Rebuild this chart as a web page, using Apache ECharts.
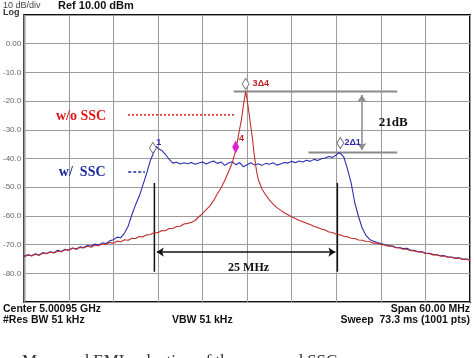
<!DOCTYPE html>
<html>
<head>
<meta charset="utf-8">
<script src="https://cdn.jsdelivr.net/npm/echarts@6/dist/echarts.min.js"></script>
<style>
html,body{margin:0;padding:0;background:#fff;}
#chart{width:474px;height:358px;}
</style>
</head>
<body>
<div id="chart"></div>
<script>
// Spectrum: offset from center (MHz) vs level (dBm)
const yTickLabels = ['-80.0','-70.0','-60.0','-50.0','-40.0','-30.0','-20.0','-10.0','0.00'];

// w/o SSC trace (red) [offset MHz, dBm]
const traceWithoutSSC = [
[-30,-74.3],[-29.5,-73.6],[-29,-74.0],[-28.5,-73.4],[-28,-73.7],[-27.5,-73.0],[-27,-73.2],[-26.5,-72.6],
[-26,-72.9],[-25.5,-72.3],[-25,-72.5],[-24.5,-71.8],[-24,-72.0],[-23.5,-71.3],[-23,-71.6],[-22.5,-71.0],
[-22,-71.2],[-21.5,-70.6],[-21,-70.9],[-20.5,-70.2],[-20,-70.4],[-19.5,-69.8],[-19,-70.0],[-18.5,-69.3],
[-18,-69.5],[-17.5,-68.8],[-17,-69.0],[-16.5,-68.3],[-16,-68.5],[-15.5,-67.8],[-15,-67.9],[-14.5,-67.2],
[-14,-67.3],[-13.5,-66.6],[-13,-66.5],[-12.5,-65.8],[-12,-65.9],[-11.5,-65.1],[-11,-65.2],[-10.5,-64.4],
[-10,-64.4],[-9.5,-63.7],[-9,-63.6],[-8.5,-62.8],[-8,-62.6],[-7.5,-62.2],[-7,-61.6],[-6.5,-60.3],
[-6,-59.2],[-5.5,-57.8],[-5,-56.5],[-4.5,-54.6],[-4,-52.3],[-3.5,-50.2],[-3,-47.6],[-2.5,-44.6],
[-2,-41.5],[-1.5,-36.8],[-1.1,-31.0],[-0.8,-27.0],[-0.6,-23.4],[-0.4,-19.8],[-0.2,-16.6],[0,-19.5],
[0.2,-23.2],[0.45,-28.0],[0.7,-32.6],[0.9,-37.5],[1.1,-41.4],[1.3,-44.8],[1.5,-47.3],[2,-50.6],
[2.5,-52.7],[3,-54.4],[3.5,-55.9],[4,-57.1],[4.5,-58.0],[5,-58.9],[5.5,-59.6],[6,-60.4],
[6.5,-60.9],[7,-61.6],[7.5,-62.0],[8,-62.6],[8.5,-63.0],[9,-63.7],[9.5,-64.0],[10,-64.6],
[10.5,-64.9],[11,-65.6],[11.5,-65.8],[12,-66.4],[12.5,-66.6],[13,-67.1],[13.5,-67.3],[14,-67.8],
[14.5,-67.9],[15,-68.4],[15.5,-68.5],[16,-68.9],[16.5,-69.0],[17,-69.5],[17.5,-69.5],[18,-70.0],
[18.5,-70.1],[19,-70.6],[19.5,-70.6],[20,-71.1],[20.5,-71.2],[21,-71.6],[21.5,-71.6],[22,-72.1],
[22.5,-72.2],[23,-72.6],[23.5,-72.6],[24,-73.1],[24.5,-73.1],[25,-73.6],[25.5,-73.5],[26,-74.0],
[26.5,-74.0],[27,-74.4],[27.5,-74.4],[28,-74.8],[28.5,-74.7],[29,-75.2],[29.5,-75.1],[30,-75.5]
];

// w/ SSC trace (blue) [offset MHz, dBm]
const traceWithSSC = [
[-30,-74.0],[-29.5,-73.5],[-29,-73.9],[-28.5,-73.2],[-28,-73.6],[-27.5,-72.8],[-27,-73.1],[-26.5,-72.5],
[-26,-72.8],[-25.5,-72.0],[-25,-72.4],[-24.5,-71.6],[-24,-71.9],[-23.5,-71.2],[-23,-71.5],[-22.5,-70.8],
[-22,-71.0],[-21.5,-70.3],[-21,-70.5],[-20.5,-69.8],[-20,-70.1],[-19.5,-69.4],[-19,-69.6],[-18.5,-68.7],
[-18,-68.3],[-17.5,-67.4],[-17,-67.6],[-16.5,-66.0],[-16,-63.5],[-15.5,-59.5],[-15,-56.0],[-14.5,-53.0],
[-14,-49.0],[-13.5,-45.0],[-13,-40.5],[-12.5,-37.5],[-12.2,-35.8],[-12,-36.5],[-11.5,-37.2],[-11,-38.6],
[-10.5,-40.2],[-10,-41.6],[-9.5,-41.3],[-9,-41.9],[-8.5,-41.5],[-8,-41.8],[-7.5,-41.4],[-7,-42.0],
[-6.5,-41.6],[-6,-41.2],[-5.5,-41.9],[-5,-41.3],[-4.5,-40.9],[-4,-41.7],[-3.5,-41.2],[-3,-42.4],
[-2.5,-41.6],[-2,-41.1],[-1.5,-42.2],[-1,-41.4],[-0.5,-42.9],[0,-42.2],[0.5,-41.5],[1,-42.3],
[1.5,-41.8],[2,-42.4],[2.5,-41.7],[3,-42.0],[3.5,-41.5],[4,-42.3],[4.5,-41.9],[5,-41.4],
[5.5,-41.6],[6,-41.0],[6.5,-41.5],[7,-40.9],[7.5,-41.2],[8,-40.6],[8.5,-41.0],[9,-40.3],
[9.5,-40.7],[10,-40.1],[10.5,-39.8],[11,-39.3],[11.5,-39.6],[12,-38.8],[12.3,-38.0],[12.6,-38.3],
[13,-39.4],[13.5,-43.5],[14,-48.5],[14.5,-55.5],[15,-60.3],[15.5,-64.3],[16,-66.8],[16.5,-68.2],
[17,-68.8],[17.5,-69.3],[18,-69.6],[18.5,-70.0],[19,-70.3],[19.5,-70.4],[20,-70.9],[20.5,-71.0],
[21,-71.4],[21.5,-71.3],[22,-71.9],[22.5,-72.0],[23,-72.5],[23.5,-72.4],[24,-73.0],[24.5,-73.0],
[25,-73.4],[25.5,-73.5],[26,-73.9],[26.5,-73.8],[27,-74.3],[27.5,-74.3],[28,-74.7],[28.5,-74.6],
[29,-75.0],[29.5,-75.0],[30,-75.3]
];

// Analyzer markers [offset MHz, dBm]
const markerOutline = [[-12.68,-36.3],[-0.2,-14.0],[12.55,-34.6]];
const markerFilled = [[-1.54,-36.0]];
const markerLabels = [
  {name:'1', pos:[-11.9,-34.3], color:'#2a2ab0'},
  {name:'3Δ4', pos:[1.85,-14.0], color:'#c02020'},
  {name:'4', pos:[-0.74,-33.2], color:'#c02020'},
  {name:'2Δ1', pos:[14.2,-34.3], color:'#2a2ab0'}
];
// Annotation texts
const noteTexts = [
  {name:'w/o SSC', pos:[-22.35,-25.3], color:'#e01818', size:14},
  {name:'w/  SSC', pos:[-22.2,-45.0], color:'#1a2a9a', size:14},
  {name:'21dB', pos:[19.66,-27.6], color:'#111', size:13},
  {name:'25 MHz', pos:[0.2,-78.2], color:'#111', size:12}
];
const refLineHigh = [[-1.81,-16.66],[20.2,-16.66]];
const refLineLow = [[8.26,-37.9],[20.2,-37.9]];
const deltaArrow = [[15.44,-17.9],[15.44,-37.0]];
const bwLineLeft = [[-12.48,-48.5],[-12.48,-79.5]];
const bwLineRight = [[12.15,-48.5],[12.15,-79.5]];
const bwArrow = [[-12.15,-72.6],[11.88,-72.6]];
const legendRedLine = [[-16.04,-24.8],[-1.54,-24.8]];
const legendBlueLine = [[-16.0,-44.7],[-13.76,-44.7]];

const chart = echarts.init(document.getElementById('chart'), null, {renderer:'canvas'});
const sans = '"Liberation Sans", Arial, sans-serif';
const serif = '"Liberation Serif", "Times New Roman", serif';

function seg(data, color, width, type, z){
  return {type:'line', data:data, showSymbol:false, silent:true, animation:false,
    lineStyle:{color:color, width:width, type:type||'solid'}, z:z||3};
}

chart.setOption({
  animation:false,
  backgroundColor:'#fff',
  grid:{left:23, top:15, width:447, height:287, show:true, borderColor:'#111', borderWidth:2, backgroundColor:'#fff'},
  xAxis:{type:'value', min:-30, max:30, interval:6,
    axisLine:{show:false}, axisTick:{show:false}, axisLabel:{show:false},
    splitLine:{show:true, lineStyle:{color:'#9c9c9c', width:1}}},
  yAxis:{type:'value', min:-90, max:10, interval:10,
    axisLine:{show:false}, axisTick:{show:false},
    axisLabel:{color:'#666', fontSize:8, fontFamily:sans, margin:3,
      formatter:function(v){ const i = Math.round((v+80)/10); return (i>=0 && i<yTickLabels.length) ? yTickLabels[i] : ''; }},
    splitLine:{show:true, lineStyle:{color:'#9c9c9c', width:1}}},
  graphic:[
    {type:'text', left:3, top:1, style:{text:'10 dB/div', font:'9px '+sans, fill:'#444'}},
    {type:'text', left:3, top:8, style:{text:'Log', font:'bold 9px '+sans, fill:'#333'}},
    {type:'text', left:58, top:0, style:{text:'Ref 10.00 dBm', font:'bold 11px '+sans, fill:'#111'}},
    {type:'text', left:3, top:304, style:{text:'Center 5.00095 GHz', font:'bold 10.5px '+sans, fill:'#111'}},
    {type:'text', right:4, top:304, style:{text:'Span 60.00 MHz', font:'bold 10.5px '+sans, fill:'#111'}},
    {type:'text', left:3, top:315, style:{text:'#Res BW 51 kHz', font:'bold 10.5px '+sans, fill:'#111'}},
    {type:'text', left:172, top:315, style:{text:'VBW 51 kHz', font:'bold 10.5px '+sans, fill:'#111'}},
    {type:'text', right:4, top:315, style:{text:'Sweep  73.3 ms (1001 pts)', font:'bold 10.5px '+sans, fill:'#111'}},
    {type:'text', left:22, top:353, style:{text:'Measured EMI reduction of the proposed SSC', font:'17px '+serif, fill:'#333'}}
  ],
  series:[
    seg(traceWithSSC, '#2b2fb0', 1.1, 'solid', 4),
    seg(traceWithoutSSC, '#c0302e', 1.1, 'solid', 5),
    seg(refLineHigh, '#8a8a8a', 2, 'solid', 3),
    seg(refLineLow, '#8a8a8a', 2, 'solid', 3),
    seg(bwLineLeft, '#111', 1.5, 'solid', 3),
    seg(bwLineRight, '#111', 1.5, 'solid', 3),
    seg(legendRedLine, '#e01818', 1.5, [2,2], 3),
    seg(legendBlueLine, '#1a2a9a', 1.5, [3,2], 3),
    {type:'lines', coordinateSystem:'cartesian2d', silent:true, animation:false, z:6,
      symbol:['arrow','arrow'], symbolSize:7,
      lineStyle:{color:'#8a8a8a', width:1.5, opacity:1},
      data:[{coords:deltaArrow}]},
    {type:'lines', coordinateSystem:'cartesian2d', silent:true, animation:false, z:6,
      symbol:['arrow','arrow'], symbolSize:7,
      lineStyle:{color:'#111', width:1.5, opacity:1},
      data:[{coords:bwArrow}]},
    {type:'scatter', data:markerOutline, symbol:'diamond', symbolSize:[7,11], silent:true, z:7,
      itemStyle:{color:'#fff', borderColor:'#777', borderWidth:1, opacity:1}},
    {type:'scatter', data:markerFilled, symbol:'diamond', symbolSize:[7,13], silent:true, z:7,
      itemStyle:{color:'#e020d0', opacity:1}},
    {type:'scatter', silent:true, z:8, symbolSize:0, itemStyle:{opacity:1},
      data:markerLabels.map(m=>({name:m.name, value:m.pos,
        label:{show:true, position:'inside', formatter:m.name, color:m.color, fontSize:9, fontWeight:'bold', fontFamily:sans}}))},
    {type:'scatter', silent:true, z:8, symbolSize:0, itemStyle:{opacity:1},
      data:noteTexts.map(m=>({name:m.name, value:m.pos,
        label:{show:true, position:'inside', formatter:m.name, color:m.color, fontSize:m.size, fontWeight:'bold', fontFamily:serif}}))}
  ]
});
</script>
</body>
</html>
